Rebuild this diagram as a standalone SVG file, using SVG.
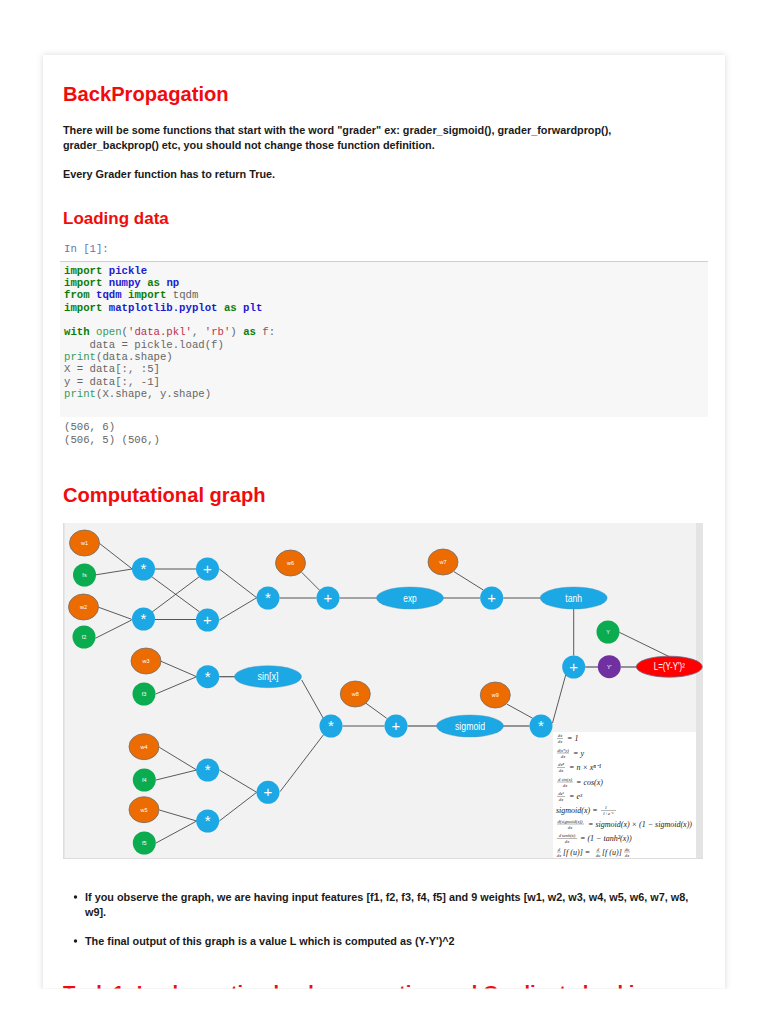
<svg xmlns="http://www.w3.org/2000/svg" width="768" height="1024" viewBox="0 0 768 1024">
<style>
.h{font-family:"Liberation Sans",Arial,sans-serif;font-weight:700;fill:#f00c0c}
.b{font-family:"Liberation Sans",Arial,sans-serif;font-weight:700;font-size:10.85px;fill:#1a1a1a}
.m{font-family:"Liberation Mono","Courier New",monospace;font-size:10.67px;fill:#666}
.k{font-weight:700;fill:#0a7d0a}
.n{font-weight:700;fill:#1b1bd0}
.bi{fill:#3a9a55}
.s{fill:#b8324a}
.o{fill:#ed6c02;stroke:#6f6f6f;stroke-width:.8}
.g{fill:#0bab4f}
.c{fill:#1ba8e4}
.e{fill:#1ba8e4;stroke:#5a8fb0;stroke-width:.4}
.t{font-family:"Liberation Sans",Arial,sans-serif;fill:#fff;text-anchor:middle}
.w{font-size:5.5px}
.op{font-size:15px}
.l{font-size:10px}
.cn line{stroke:#333;stroke-width:.8}
.cn .hz{stroke:#555;stroke-width:1.200}
.f{font-family:"Liberation Serif","Times New Roman",serif;font-style:italic;fill:#222;font-size:8px}
.fs{font-size:4.6px;text-anchor:middle}
.fl{stroke:#444;stroke-width:.4}
</style>
<defs>
<filter id="sh" x="-5%" y="-5%" width="110%" height="110%"><feGaussianBlur stdDeviation="3"/></filter>
<clipPath id="page"><rect x="0" y="0" width="768" height="988.500"/></clipPath>
</defs>
<rect width="768" height="1024" fill="#fff"/>
<g clip-path="url(#page)">
<rect x="43" y="55" width="682" height="960" fill="#bbb" opacity=".55" filter="url(#sh)"/>
<rect x="43" y="55" width="682" height="960" fill="#fff"/>
<text class="h" x="63" y="101" font-size="20.150">BackPropagation</text>
<text class="b" x="63" y="133.700">There will be some functions that start with the word "grader" ex: grader_sigmoid(), grader_forwardprop(),</text>
<text class="b" x="63" y="148.700">grader_backprop() etc, you should not change those function definition.</text>
<text class="b" x="63" y="177.500">Every Grader function has to return True.</text>
<text class="h" x="63" y="224" font-size="17">Loading data</text>
<text class="m" x="64" y="252" style="fill:#6272b5">In [1]:</text>
<rect x="60" y="261" width="648" height="156" fill="#f7f7f7"/>
<line x1="60" y1="261.500" x2="708" y2="261.500" stroke="#cfcfcf"/>
<text class="m" x="64" y="273.500"><tspan class="k">import</tspan> <tspan class="n">pickle</tspan></text>
<text class="m" x="64" y="286"><tspan class="k">import</tspan> <tspan class="n">numpy</tspan> <tspan class="k">as</tspan> <tspan class="n">np</tspan></text>
<text class="m" x="64" y="298.300"><tspan class="k">from</tspan> <tspan class="n">tqdm</tspan> <tspan class="k">import</tspan> tqdm</text>
<text class="m" x="64" y="310.600"><tspan class="k">import</tspan> <tspan class="n">matplotlib.pyplot</tspan> <tspan class="k">as</tspan> <tspan class="n">plt</tspan></text>
<text class="m" x="64" y="335.300"><tspan class="k">with</tspan> <tspan class="bi">open</tspan>(<tspan class="s">'data.pkl'</tspan>, <tspan class="s">'rb'</tspan>) <tspan class="k">as</tspan> f:</text>
<text class="m" x="64" y="347.600" xml:space="preserve">    data = pickle.load(f)</text>
<text class="m" x="64" y="360"><tspan class="bi">print</tspan>(data.shape)</text>
<text class="m" x="64" y="372.300">X = data[:, :5]</text>
<text class="m" x="64" y="384.600">y = data[:, -1]</text>
<text class="m" x="64" y="397"><tspan class="bi">print</tspan>(X.shape, y.shape)</text>
<text class="m" x="64" y="430">(506, 6)</text>
<text class="m" x="64" y="442.500">(506, 5) (506,)</text>
<text class="h" x="63" y="502" font-size="20.150">Computational graph</text>

<rect x="63" y="523" width="640" height="335.500" fill="#f2f2f2"/>
<rect x="63" y="523" width="1.500" height="335.500" fill="#dcdcdc"/>
<rect x="696" y="523" width="7" height="335.500" fill="#e4e4e4"/>
<rect x="553" y="732" width="143" height="126.500" fill="#fff"/>
<rect x="63" y="858" width="640" height="1" fill="#dcdcdc"/>

<g id="connectors" class="cn">
<line x1="99.300" y1="543.300" x2="132.300" y2="569"/>
<line x1="94.700" y1="575" x2="132.300" y2="569"/>
<line x1="98.700" y1="607.300" x2="131.700" y2="619.300"/>
<line x1="95.300" y1="638.300" x2="131.700" y2="620"/>
<line class="hz" x1="155" y1="569" x2="196" y2="569"/>
<line x1="151.700" y1="576.700" x2="199.300" y2="611.700"/>
<line x1="151.700" y1="612.300" x2="199.300" y2="576.700"/>
<line class="hz" x1="155" y1="619.500" x2="196" y2="619.500"/>
<line x1="219.300" y1="569" x2="256.700" y2="597.700"/>
<line x1="219.300" y1="620" x2="256.700" y2="597.700"/>
<line class="hz" x1="279.500" y1="598" x2="316.500" y2="598"/>
<line x1="301.700" y1="572.300" x2="320" y2="590.700"/>
<line class="hz" x1="339.500" y1="598" x2="380" y2="598"/>
<line class="hz" x1="440" y1="598" x2="480.200" y2="598"/>
<line x1="454" y1="571.700" x2="483.300" y2="590"/>
<line class="hz" x1="503.200" y1="598" x2="542" y2="598"/>
<line x1="573.700" y1="609" x2="573.700" y2="655.500"/>
<line class="hz" x1="585.200" y1="667" x2="598" y2="667"/>
<line class="hz" x1="620.800" y1="667" x2="637" y2="667"/>
<line x1="619.300" y1="632.300" x2="669.300" y2="656.700"/>
<line x1="161" y1="661.300" x2="196.700" y2="676.700"/>
<line x1="155.700" y1="694" x2="196.700" y2="676.700"/>
<line class="hz" x1="219.200" y1="676.700" x2="236" y2="676.700"/>
<line x1="301.700" y1="680" x2="323.300" y2="718.300"/>
<line x1="159.300" y1="747.300" x2="196.700" y2="770"/>
<line x1="156" y1="780" x2="196.700" y2="770"/>
<line x1="159.300" y1="810" x2="196.700" y2="821"/>
<line x1="156" y1="843" x2="196.700" y2="821"/>
<line x1="219.300" y1="770" x2="256.700" y2="792.300"/>
<line x1="219.300" y1="821" x2="256.700" y2="792.300"/>
<line x1="280" y1="791.700" x2="323.300" y2="735"/>
<line class="hz" x1="342.500" y1="726" x2="384.500" y2="726"/>
<line x1="366" y1="703.300" x2="386.700" y2="718.300"/>
<line class="hz" x1="407.500" y1="726" x2="437" y2="726"/>
<line class="hz" x1="503" y1="726" x2="529.500" y2="726"/>
<line x1="506.700" y1="704" x2="532.700" y2="718.300"/>
<line x1="552.500" y1="723" x2="565.700" y2="675"/>
</g>

<g id="w1"><ellipse class="o" cx="84.500" cy="543" rx="15" ry="13"/><text class="t w" x="84.500" y="545">w1</text></g>
<g id="f1"><circle class="g" cx="84.500" cy="575" r="11.500"/><text class="t w" x="84.500" y="577">fs</text></g>
<g id="w2"><ellipse class="o" cx="83.500" cy="607" rx="15" ry="13"/><text class="t w" x="83.500" y="609">w2</text></g>
<g id="f2"><circle class="g" cx="84" cy="637" r="11.500"/><text class="t w" x="84" y="639">f2</text></g>
<g id="mul1"><circle class="c" cx="143.500" cy="569" r="11.500"/><text class="t op" x="143.500" y="574">*</text></g>
<g id="mul2"><circle class="c" cx="143.500" cy="619" r="11.500"/><text class="t op" x="143.500" y="624">*</text></g>
<g id="add1"><circle class="c" cx="207.500" cy="569" r="11.500"/><text class="t op" x="207.500" y="574">+</text></g>
<g id="add2"><circle class="c" cx="207.500" cy="620" r="11.500"/><text class="t op" x="207.500" y="625">+</text></g>
<g id="mul3"><circle class="c" cx="268" cy="598" r="11.500"/><text class="t op" x="268" y="603">*</text></g>
<g id="w6"><ellipse class="o" cx="290.500" cy="563" rx="15" ry="13"/><text class="t w" x="290.500" y="565">w6</text></g>
<g id="add3"><circle class="c" cx="328" cy="598" r="11.500"/><text class="t op" x="328" y="603">+</text></g>
<g id="exp"><ellipse class="e" cx="410" cy="598" rx="33.500" ry="11"/><text class="t l" x="410" y="601.500" textLength="13.500" lengthAdjust="spacingAndGlyphs">exp</text></g>
<g id="w7"><ellipse class="o" cx="443" cy="562" rx="15" ry="13"/><text class="t w" x="443" y="564">w7</text></g>
<g id="add4"><circle class="c" cx="491.700" cy="598" r="11.500"/><text class="t op" x="491.700" y="603">+</text></g>
<g id="tanh"><ellipse class="e" cx="573.700" cy="598" rx="33.500" ry="11"/><text class="t l" x="573.700" y="601.500" textLength="16.700" lengthAdjust="spacingAndGlyphs">tanh</text></g>
<g id="add5"><circle class="c" cx="573.700" cy="667" r="11.500"/><text class="t op" x="573.700" y="672">+</text></g>
<g id="Y"><circle class="g" cx="608" cy="632" r="11.500"/><text class="t w" x="608" y="634">Y</text></g>
<g id="Yp"><circle cx="609.300" cy="666.700" r="11.500" fill="#7030a0"/><text class="t w" x="609.300" y="668.700">Y'</text></g>
<g id="L"><ellipse cx="669.300" cy="666.700" rx="33" ry="10.500" fill="#f00" stroke="#6a6a8a" stroke-width=".8"/><text class="t l" x="669.300" y="670" textLength="31" lengthAdjust="spacingAndGlyphs">L=(Y-Y')²</text></g>
<g id="w3"><ellipse class="o" cx="146" cy="661" rx="15" ry="13"/><text class="t w" x="146" y="663">w3</text></g>
<g id="f3"><circle class="g" cx="144" cy="694" r="11.500"/><text class="t w" x="144" y="696">f3</text></g>
<g id="mul4"><circle class="c" cx="207.700" cy="676.700" r="11.500"/><text class="t op" x="207.700" y="681.700">*</text></g>
<g id="sin"><ellipse class="e" cx="268" cy="676.700" rx="33.500" ry="11"/><text class="t l" x="268" y="680.200" textLength="21" lengthAdjust="spacingAndGlyphs">sin[x]</text></g>
<g id="w4"><ellipse class="o" cx="144" cy="746.700" rx="15" ry="13"/><text class="t w" x="144" y="748.700">w4</text></g>
<g id="f4"><circle class="g" cx="144.300" cy="780" r="11.500"/><text class="t w" x="144.300" y="782">f4</text></g>
<g id="w5"><ellipse class="o" cx="144" cy="809.700" rx="15" ry="13"/><text class="t w" x="144" y="811.700">w5</text></g>
<g id="f5"><circle class="g" cx="144.300" cy="843" r="11.500"/><text class="t w" x="144.300" y="845">f5</text></g>
<g id="mul5"><circle class="c" cx="207.700" cy="770" r="11.500"/><text class="t op" x="207.700" y="775">*</text></g>
<g id="mul6"><circle class="c" cx="207.700" cy="821" r="11.500"/><text class="t op" x="207.700" y="826">*</text></g>
<g id="add6"><circle class="c" cx="268" cy="792.300" r="11.500"/><text class="t op" x="268" y="797.300">+</text></g>
<g id="mul7"><circle class="c" cx="331" cy="726" r="11.500"/><text class="t op" x="331" y="731">*</text></g>
<g id="w8"><ellipse class="o" cx="355.300" cy="694" rx="15" ry="13"/><text class="t w" x="355.300" y="696">w8</text></g>
<g id="add7"><circle class="c" cx="396" cy="726" r="11.500"/><text class="t op" x="396" y="731">+</text></g>
<g id="sigmoid"><ellipse class="e" cx="470" cy="726" rx="33.500" ry="11"/><text class="t l" x="470" y="729.500" textLength="30" lengthAdjust="spacingAndGlyphs">sigmoid</text></g>
<g id="w9"><ellipse class="o" cx="495.300" cy="695" rx="15" ry="13"/><text class="t w" x="495.300" y="697">w9</text></g>
<g id="mul8"><circle class="c" cx="541" cy="726" r="11.500"/><text class="t op" x="541" y="731">*</text></g>

<g id="formulas">
<text class="f fs" x="560" y="737">dx</text><line class="fl" x1="557" y1="738.500" x2="563" y2="738.500"/><text class="f fs" x="560" y="743">dx</text><text class="f" x="567" y="740.500">= 1</text>
<text class="f fs" x="563" y="751.500">d(x*y)</text><line class="fl" x1="557" y1="753" x2="569" y2="753"/><text class="f fs" x="563" y="757.500">dx</text><text class="f" x="573" y="755.500">= y</text>
<text class="f fs" x="561" y="766">dxⁿ</text><line class="fl" x1="557" y1="767.500" x2="565" y2="767.500"/><text class="f fs" x="561" y="772">dx</text><text class="f" x="569" y="770">= n × xⁿ⁻¹</text>
<text class="f fs" x="565" y="780.500">d sin(x)</text><line class="fl" x1="557" y1="782" x2="573" y2="782"/><text class="f fs" x="565" y="786.500">dx</text><text class="f" x="576" y="784.500">= cos(x)</text>
<text class="f fs" x="561" y="795">deˣ</text><line class="fl" x1="557" y1="796.500" x2="565" y2="796.500"/><text class="f fs" x="561" y="801">dx</text><text class="f" x="569" y="799">= eˣ</text>
<text class="f" x="556" y="813">sigmoid(x) =</text><text class="f fs" x="606" y="809">1</text><line class="fl" x1="601" y1="810.500" x2="616" y2="810.500"/><text class="f fs" x="608" y="815">1+e⁻ˣ</text>
<text class="f fs" x="570" y="822.500">d(sigmoid(x))</text><line class="fl" x1="557" y1="824" x2="584" y2="824"/><text class="f fs" x="570" y="828.500">dx</text><text class="f" x="588" y="826.500">= sigmoid(x) × (1 − sigmoid(x))</text>
<text class="f fs" x="567" y="837">d tanh(x)</text><line class="fl" x1="557" y1="838.500" x2="577" y2="838.500"/><text class="f fs" x="567" y="843">dx</text><text class="f" x="580" y="841">= (1 − tanh²(x))</text>
<text class="f fs" x="559" y="850.500">d</text><line class="fl" x1="557" y1="852" x2="561" y2="852"/><text class="f fs" x="559" y="856.500">dx</text><text class="f" x="563" y="855">[f (u)] =</text><text class="f fs" x="598" y="850.500">d</text><line class="fl" x1="596" y1="852" x2="600" y2="852"/><text class="f fs" x="598" y="856.500">du</text><text class="f" x="602" y="855">[f (u)]</text><text class="f fs" x="627" y="850.500">du</text><line class="fl" x1="624" y1="852" x2="630" y2="852"/><text class="f fs" x="627" y="856.500">dx</text>
</g>

<circle cx="75.500" cy="897" r="1.700" fill="#1a1a1a"/>
<text class="b" x="85" y="901">If you observe the graph, we are having input features [f1, f2, f3, f4, f5] and 9 weights [w1, w2, w3, w4, w5, w6, w7, w8,</text>
<text class="b" x="85" y="916">w9].</text>
<circle cx="75.500" cy="941" r="1.700" fill="#1a1a1a"/>
<text class="b" x="85" y="944.500">The final output of this graph is a value L which is computed as (Y-Y')^2</text>
<text class="h" x="63" y="999.500" font-size="20.150" textLength="596">Task 1: Implementing backpropagation and Gradient checking</text>
</g>
</svg>
